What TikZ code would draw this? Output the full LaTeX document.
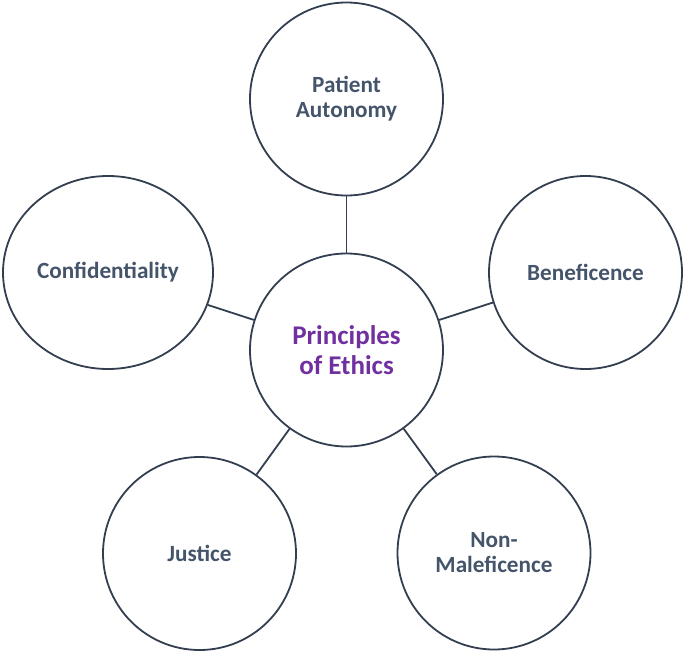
\documentclass[tikz,border=0pt]{standalone}
\usepackage{fontspec}
\usetikzlibrary{shapes.geometric}
\setmainfont{Carlito}
\definecolor{txt}{HTML}{44546A}
\definecolor{strk}{HTML}{333F50}
\definecolor{purp}{HTML}{7030A0}
\begin{document}
\begin{tikzpicture}[x=1pt,y=-1pt,
  bubble/.style={circle,draw=strk,line width=1.8pt,minimum size=193pt,inner sep=0pt,
    font=\fontsize{23.2}{25}\selectfont\bfseries,text=txt,align=center},
  hub/.style={bubble,text=purp,font=\fontsize{27}{30}\selectfont\bfseries},
  link/.style={draw=strk,line width=1.8pt}]
\useasboundingbox (0,0) rectangle (685,653);
\node[hub] (c) at (346.5,350) {Principles\\of Ethics};
\node[bubble] (pa) at (346.5,99) {Patient\\Autonomy};
\node[bubble,ellipse,minimum width=210pt,minimum height=193pt] (co) at (108,272.5) {Confidentiality};
\node[bubble] (be) at (585.5,272.5) {Beneficence};
\node[bubble] (ju) at (199.5,553.5) {Justice};
\node[bubble] (nm) at (494,553) {Non-\\Maleficence};
\draw[link] (c) -- (pa);
\draw[link] (c) -- (co);
\draw[link] (c) -- (be);
\draw[link] (c) -- (ju);
\draw[link] (c) -- (nm);
\end{tikzpicture}
\end{document}
